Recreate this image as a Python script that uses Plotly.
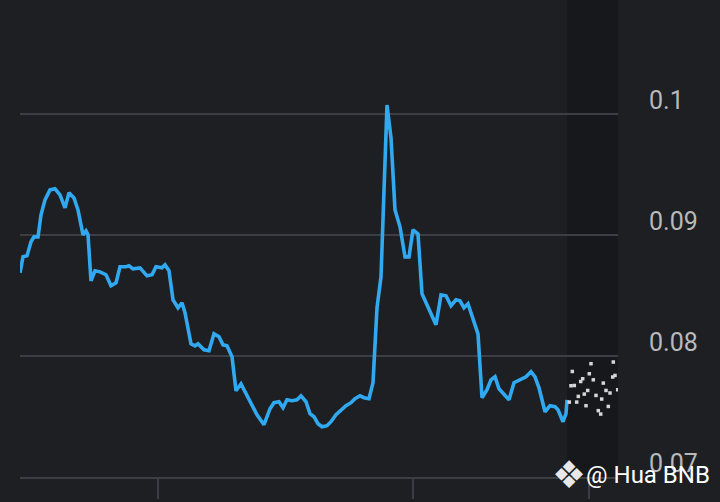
import plotly.graph_objects as go

# ---- data ----
t = [0, 3, 7, 11, 14, 18, 21, 25, 30, 35, 40, 45, 49, 54, 58, 63, 66, 68, 71, 75,
     80, 86, 91, 96, 100, 106, 109, 113, 120, 127, 132, 136, 142, 145, 149, 153, 158, 162, 165, 171,
     175, 178, 184, 189, 194, 199, 203, 207, 212, 216, 221, 226, 232, 237, 244, 250, 254, 259, 263, 267,
     272, 277, 281, 286, 290, 294, 298, 302, 307, 311, 316, 322, 326, 331, 335, 340, 344, 349, 353, 357,
     361, 367, 371, 375, 380, 385, 389, 393, 398, 402, 407, 416, 421, 426, 431, 436, 440, 444, 448, 453,
     458, 462, 467, 471, 475, 479, 484, 489, 494, 498, 502, 506, 511, 515, 519, 525, 530, 535, 538, 543,
     546, 547]
price = [0.08687, 0.08819, 0.08827, 0.08943, 0.08984, 0.08984, 0.09166, 0.09290, 0.09372, 0.09381,
         0.09331, 0.09224, 0.09348, 0.09306, 0.09207, 0.09001, 0.09034, 0.09001, 0.08621, 0.08704,
         0.08695, 0.08671, 0.08580, 0.08604, 0.08737, 0.08737, 0.08745, 0.08720, 0.08728, 0.08662,
         0.08671, 0.08737, 0.08728, 0.08753, 0.08704, 0.08464, 0.08398, 0.08439, 0.08357, 0.08101,
         0.08084, 0.08101, 0.08051, 0.08043, 0.08183, 0.08159, 0.08092, 0.08084, 0.07993, 0.07713,
         0.07770, 0.07688, 0.07581, 0.07514, 0.07432, 0.07564, 0.07614, 0.07622, 0.07572, 0.07638,
         0.07630, 0.07638, 0.07671, 0.07622, 0.07523, 0.07498, 0.07440, 0.07415, 0.07424, 0.07457,
         0.07514, 0.07556, 0.07589, 0.07614, 0.07647, 0.07671, 0.07655, 0.07647, 0.07779, 0.08398,
         0.08654, 0.10074, 0.09802, 0.09207, 0.09067, 0.08819, 0.08819, 0.09042, 0.09009, 0.08514,
         0.08423, 0.08258, 0.08505, 0.08497, 0.08415, 0.08464, 0.08456, 0.08398, 0.08431, 0.08299,
         0.08183, 0.07655, 0.07721, 0.07803, 0.07828, 0.07729, 0.07680, 0.07638, 0.07779, 0.07795,
         0.07812, 0.07828, 0.07870, 0.07828, 0.07737, 0.07539, 0.07589, 0.07581, 0.07556, 0.07457,
         0.07523, 0.07638]

# loading-indicator squares in the shaded future zone
dot_t = [552.3, 571, 593.3, 569.3, 562.7, 560.7, 573.3, 583.3, 592.7, 595, 551, 554.3, 567.7,
         564.3, 586, 590, 558.3, 576, 581.7, 597.7, 549.3, 556.7, 566, 588.3, 578.3, 580.7]
dot_v = [0.07872, 0.07936, 0.07950, 0.07853, 0.07812, 0.07789, 0.07803, 0.07776, 0.07826, 0.07839,
         0.07754, 0.07756, 0.07715, 0.07685, 0.07715, 0.07694, 0.07666, 0.07674, 0.07644, 0.07721,
         0.07619, 0.07619, 0.07589, 0.07583, 0.07548, 0.07520]

y_tickvals = [0.07, 0.08, 0.09, 0.1]
y_ticktext = ["0.07", "0.08", "0.09", "0.1"]
x_tickvals = [138, 393, 569]
future_start, future_end = 547, 598
x_range = [0, 598]
y_range = [0.07, 0.10941]

BG = "#1d1f23"
GRID = "#3c3e43"

fig = go.Figure()
fig.add_trace(go.Scatter(
    x=t, y=price, mode="lines",
    line=dict(color="#31a9f0", width=3.6),
    hoverinfo="skip", showlegend=False,
))
fig.add_trace(go.Scatter(
    x=dot_t, y=dot_v, mode="markers",
    marker=dict(symbol="square", size=3.5, color="#d6d6d6", line=dict(width=0)),
    hoverinfo="skip", showlegend=False,
))

fig.add_shape(type="rect", xref="x", yref="paper",
              x0=future_start, x1=future_end, y0=0, y1=1,
              fillcolor="#17181b", line=dict(width=0), layer="below")

fig.update_layout(
    width=720, height=502,
    margin=dict(l=20, r=102, t=0, b=25),
    paper_bgcolor=BG, plot_bgcolor=BG,
    font=dict(family="Roboto", color="#b8b9bb"),
    xaxis=dict(
        range=x_range, showgrid=False, zeroline=False,
        showline=True, linecolor=GRID, linewidth=2,
        tickvals=x_tickvals, ticks="outside", ticklen=20, tickwidth=2, tickcolor=GRID,
        showticklabels=False, fixedrange=True,
    ),
    yaxis=dict(
        range=y_range, side="right", zeroline=False, showline=False,
        tickvals=y_tickvals, ticktext=y_ticktext, ticks="",
        gridcolor=GRID, gridwidth=2,
        tickfont=dict(size=25, color="#b8b9bb", family="Roboto"),
        ticklabelshift=-14, ticklabelstandoff=30, fixedrange=True,
    ),
    annotations=[
        dict(text="@ Hua BNB", xref="paper", yref="paper", x=1.1572, y=0.004,
             xanchor="right", yanchor="middle", showarrow=False,
             font=dict(size=24, color="#ffffff", family="Roboto")),
        dict(text="❖", xref="paper", yref="paper", x=0.918, y=0.005,
             xanchor="center", yanchor="middle", showarrow=False,
             font=dict(size=38, color="#e8e8e8", family="DejaVu Sans")),
    ],
)

fig.write_html("out.html", config={"displayModeBar": False, "staticPlot": True},
               post_script="document.body.style.margin='0';document.body.style.background='#1d1f23';")
